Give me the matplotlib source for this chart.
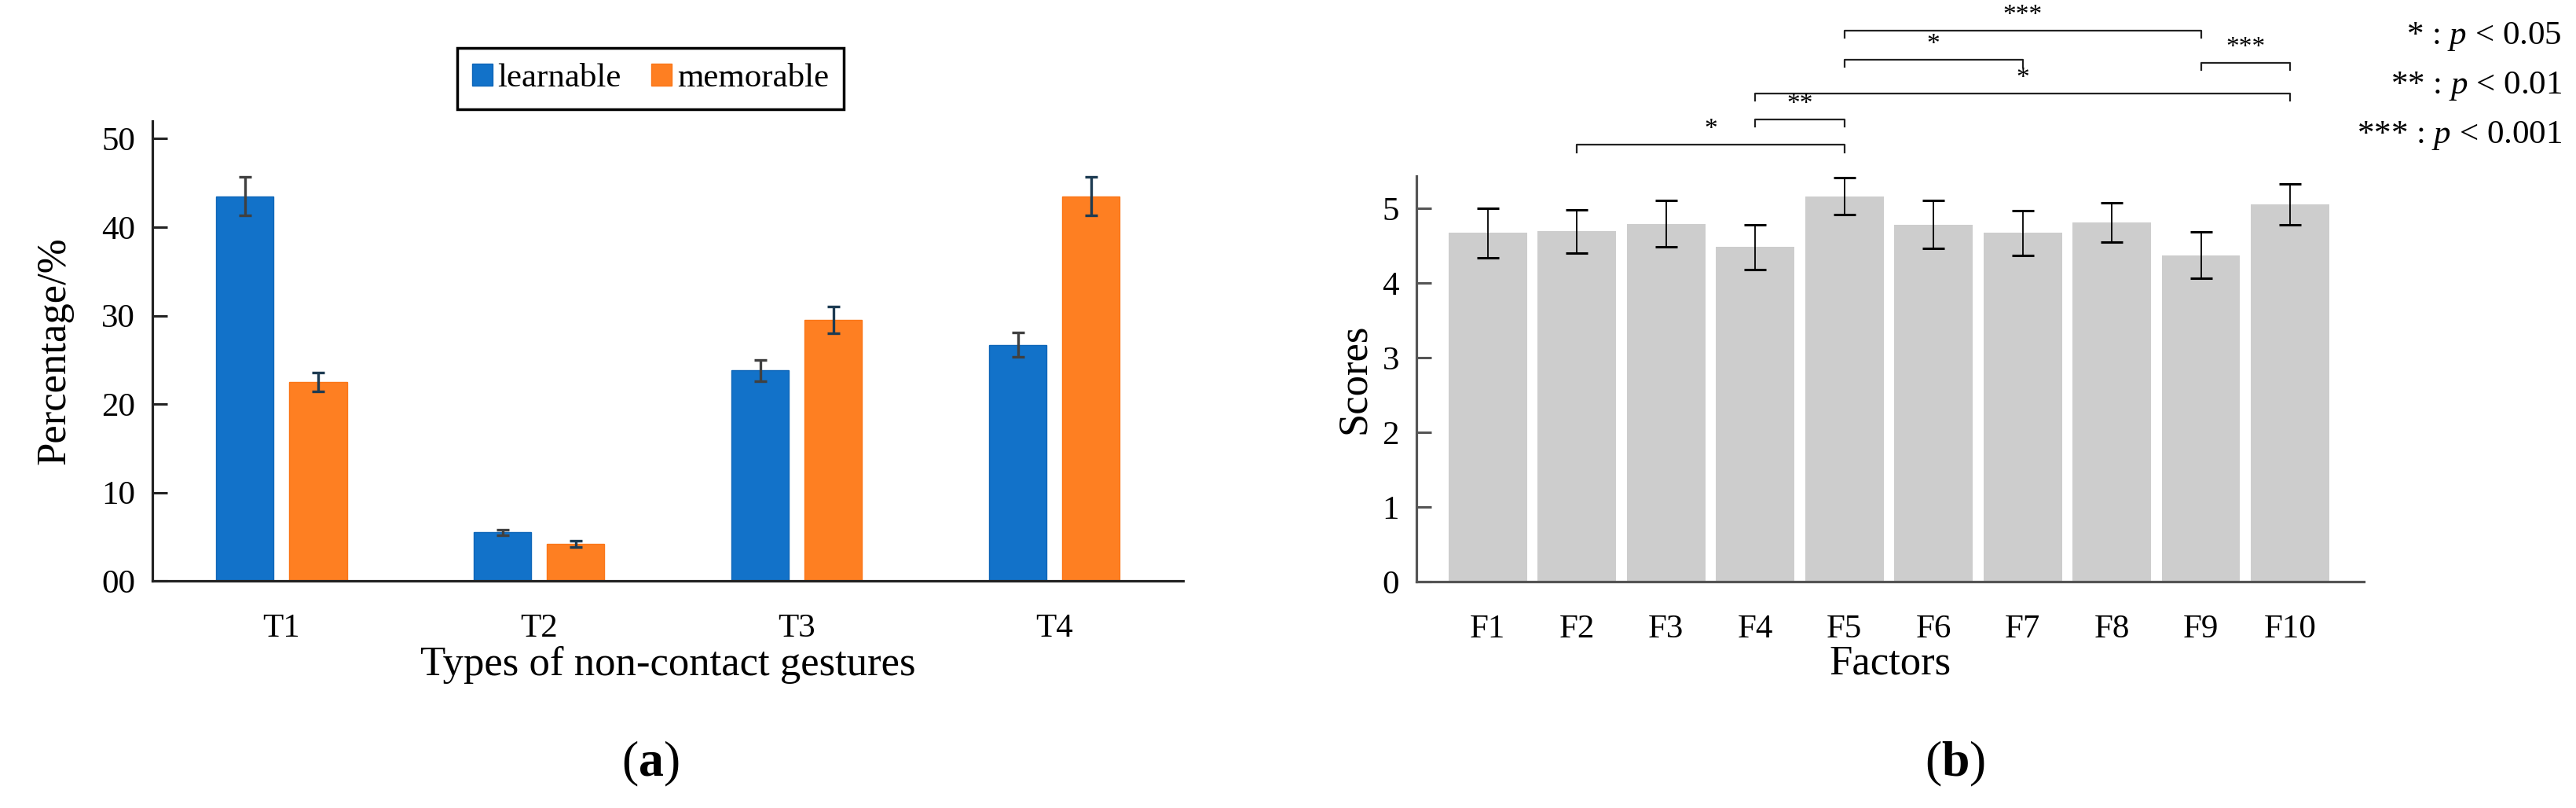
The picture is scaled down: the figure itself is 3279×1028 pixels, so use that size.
import matplotlib
matplotlib.use("Agg")
import matplotlib.pyplot as plt
import numpy as np

# panel (a) data
gesture_types = ['T1', 'T2', 'T3', 'T4']
learnable = [43.5, 5.5, 23.8, 26.7]
learnable_err = [2.2, 0.3, 1.2, 1.4]
memorable = [22.5, 4.2, 29.5, 43.5]
memorable_err = [1.1, 0.35, 1.5, 2.2]
pct_ticks = [0, 10, 20, 30, 40, 50]
pct_ticklabels = ['00', '10', '20', '30', '40', '50']

# panel (b) data
factors = ['F1', 'F2', 'F3', 'F4', 'F5', 'F6', 'F7', 'F8', 'F9', 'F10']
scores = [4.67, 4.69, 4.79, 4.48, 5.16, 4.78, 4.67, 4.81, 4.37, 5.05]
score_err = [0.33, 0.29, 0.31, 0.30, 0.25, 0.32, 0.30, 0.26, 0.31, 0.27]
score_ticks = [0, 1, 2, 3, 4, 5]
comparisons = [('F5', 'F9', '***'), ('F5', 'F7', '*'), ('F9', 'F10', '***'),
               ('F4', 'F10', '*'), ('F4', 'F5', '**'), ('F2', 'F5', '*')]
sig_legend = [r'* : $p$ < 0.05', r'** : $p$ < 0.01', r'*** : $p$ < 0.001']

plt.rcParams['font.family'] = ['Liberation Serif', 'DejaVu Serif']
plt.rcParams['mathtext.fontset'] = 'custom'
plt.rcParams['mathtext.rm'] = 'Liberation Serif'
plt.rcParams['mathtext.it'] = 'Liberation Serif:italic'
plt.rcParams['mathtext.bf'] = 'Liberation Serif:bold'

blue = '#1272c9'
orange = '#fe7f22'

fig = plt.figure(figsize=(32.79, 10.28), dpi=100)

# ---- panel (a)
ax1 = fig.add_axes([0.0593, 0.2811, 0.4, 0.5691])
x = np.arange(1, len(gesture_types) + 1)
w = 0.223
off = 0.142
ax1.bar(x - off, learnable, w, color=blue, edgecolor='#0f66b8', linewidth=1, label='learnable')
ax1.bar(x + off, memorable, w, color=orange, edgecolor='#fb7618', linewidth=1, label='memorable')
ax1.errorbar(x - off, learnable, yerr=learnable_err, fmt='none', ecolor='#404040',
             elinewidth=2.4, capsize=6, capthick=2.4)
ax1.errorbar(x + off, memorable, yerr=memorable_err, fmt='none', ecolor='#1d3b52',
             elinewidth=2.4, capsize=6, capthick=2.4)
ax1.set_xlim(0.5, 4.5)
ax1.set_ylim(0, 52)
ax1.set_xticks(x)
ax1.set_xticklabels(gesture_types)
ax1.set_yticks(pct_ticks)
ax1.set_yticklabels(pct_ticklabels)
ax1.set_ylabel('Percentage/%', fontsize=38, labelpad=26)
ax1.set_xlabel('Types of non-contact gestures', fontsize=38, labelpad=2)

leg = fig.legend(loc='center', bbox_to_anchor=(0.2525, 0.9027), ncol=2, fontsize=31,
                 frameon=True, fancybox=False, edgecolor='black', framealpha=1,
                 handlelength=0.6, handleheight=0.6, handletextpad=0.15,
                 columnspacing=0.9, borderpad=0.45)
leg.get_frame().set_linewidth(2.5)

# ---- panel (b)
ax2 = fig.add_axes([0.5499, 0.2802, 0.3678, 0.5019])
xf = np.arange(1, len(factors) + 1)
ax2.bar(xf, scores, 0.88, color='#cdcdcd')
ax2.errorbar(xf, scores, yerr=score_err, fmt='none', ecolor='black',
             elinewidth=1.3, capsize=10, capthick=2.2)
ax2.set_xlim(0.2, 10.83)
ax2.set_ylim(0, 5.43)
ax2.set_xticks(xf)
ax2.set_xticklabels(factors)
ax2.set_yticks(score_ticks)
ax2.set_ylabel('Scores', fontsize=38, labelpad=8)
ax2.set_xlabel('Factors', fontsize=38, labelpad=0)

# significance brackets above the bars
levels = [7.38, 6.99, 6.95, 6.54, 6.19, 5.85]
drop = 0.1
for (a, b, star), lev in zip(comparisons, levels):
    x0 = factors.index(a) + 1
    x1 = factors.index(b) + 1
    ax2.plot([x0, x0, x1, x1], [lev - drop, lev, lev, lev - drop], color='#222222',
             linewidth=1.6, clip_on=False)
    ax2.text((x0 + x1) / 2, lev + 0.04, star, ha='center', va='bottom', fontsize=24,
             clip_on=False)

for i, s in enumerate(sig_legend):
    fig.text(0.9945, 0.955 - i * 0.0612, s, ha='right', va='center', fontsize=31)

for ax, spine_col in [(ax1, '#222222'), (ax2, '#555555')]:
    for side in ['top', 'right']:
        ax.spines[side].set_visible(False)
    for side in ['left', 'bottom']:
        ax.spines[side].set_linewidth(2.3)
        ax.spines[side].set_color(spine_col)
    ax.tick_params(axis='y', direction='in', length=14, width=2.2, labelsize=31, pad=16,
                   color=spine_col)
    ax.tick_params(axis='x', length=0, labelsize=31, pad=30)

fig.text(0.2525, 0.055, r'($\mathbf{a}$)', ha='center', va='center', fontsize=46)
fig.text(0.7588, 0.055, r'($\mathbf{b}$)', ha='center', va='center', fontsize=46)

fig.savefig('out.png', dpi=100)
